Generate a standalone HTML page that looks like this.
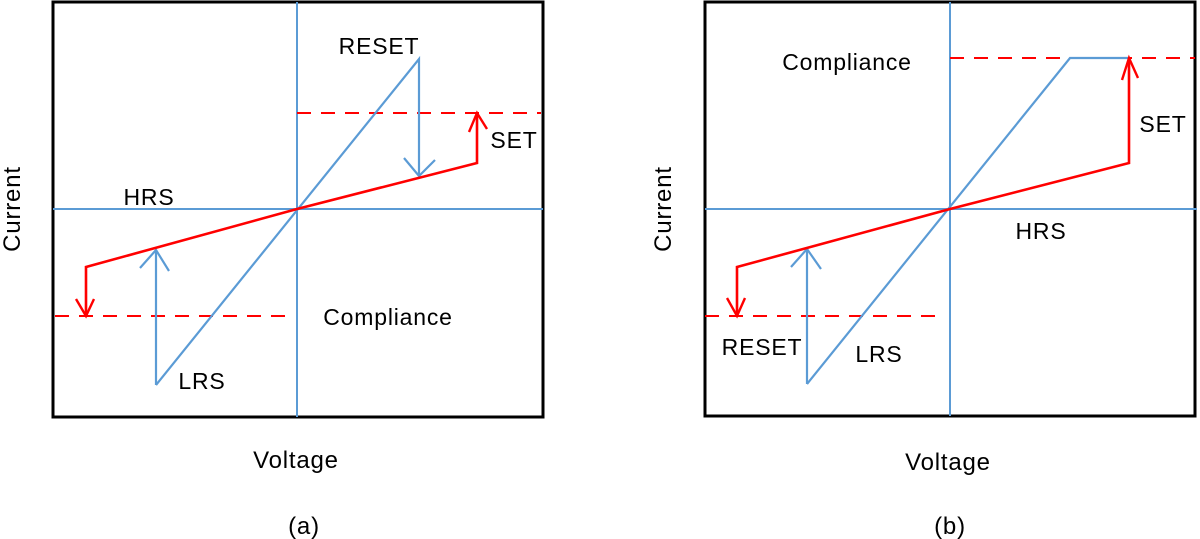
<!DOCTYPE html>
<html><head><meta charset="utf-8"><style>
html,body{margin:0;padding:0;background:#fff;}
svg{display:block;}
text{font-family:"Liberation Sans",sans-serif;fill:#000;letter-spacing:0.8px;}
</style></head><body>
<svg width="1200" height="539" viewBox="0 0 1200 539" xmlns="http://www.w3.org/2000/svg">
<!-- Panel (a) -->
<rect x="53" y="2" width="490" height="415" fill="none" stroke="#000" stroke-width="3"/>
<line x1="297" y1="2" x2="297" y2="417" stroke="#5b9bd5" stroke-width="2"/>
<line x1="53" y1="209" x2="543" y2="209" stroke="#5b9bd5" stroke-width="2"/>
<line x1="297" y1="113" x2="541" y2="113" stroke="#f00" stroke-width="2" stroke-dasharray="14,10"/>
<line x1="55" y1="316" x2="295" y2="316" stroke="#f00" stroke-width="2" stroke-dasharray="14,10"/>
<polyline points="156,385 419,59 419,176" fill="none" stroke="#5b9bd5" stroke-width="2.2"/>
<polyline points="404,158 419,176 435,160" fill="none" stroke="#5b9bd5" stroke-width="2.2"/>
<polyline points="156,385 156,250" fill="none" stroke="#5b9bd5" stroke-width="2.2"/>
<polyline points="140,268 156,250 169,271" fill="none" stroke="#5b9bd5" stroke-width="2.2"/>
<polyline points="86,316 86,267 297,209 477,163 477,113" fill="none" stroke="#f00" stroke-width="2.6"/>
<polyline points="469,132 477,113 487,129" fill="none" stroke="#f00" stroke-width="2.4"/>
<polyline points="76,299 86,316 94,299" fill="none" stroke="#f00" stroke-width="2.4"/>
<text x="379" y="54" font-size="23" text-anchor="middle">RESET</text>
<text x="514" y="148" font-size="23" text-anchor="middle">SET</text>
<text x="149" y="205" font-size="23" text-anchor="middle">HRS</text>
<text x="388" y="325" font-size="23" text-anchor="middle">Compliance</text>
<text x="202" y="389" font-size="23" text-anchor="middle">LRS</text>
<text x="296" y="468" font-size="24" text-anchor="middle">Voltage</text>
<text x="304" y="534" font-size="24" text-anchor="middle">(a)</text>
<text transform="translate(20,209) rotate(-90)" font-size="24" text-anchor="middle">Current</text>

<!-- Panel (b) -->
<rect x="705" y="2" width="490" height="414" fill="none" stroke="#000" stroke-width="3"/>
<line x1="950" y1="2" x2="950" y2="416" stroke="#5b9bd5" stroke-width="2"/>
<line x1="705" y1="209" x2="1197" y2="209" stroke="#5b9bd5" stroke-width="2"/>
<line x1="950" y1="58" x2="1195" y2="58" stroke="#f00" stroke-width="2" stroke-dasharray="14,10"/>
<line x1="705" y1="316" x2="945" y2="316" stroke="#f00" stroke-width="2" stroke-dasharray="14,10"/>
<polyline points="807,384 1070,58 1129,58" fill="none" stroke="#5b9bd5" stroke-width="2.2"/>
<polyline points="807,384 807,249" fill="none" stroke="#5b9bd5" stroke-width="2.2"/>
<polyline points="791,267 807,249 821,269" fill="none" stroke="#5b9bd5" stroke-width="2.2"/>
<polyline points="737,316 737,267 950,209 1129,163 1129,58" fill="none" stroke="#f00" stroke-width="2.6"/>
<polyline points="1122,80 1129,58 1138,78" fill="none" stroke="#f00" stroke-width="2.4"/>
<polyline points="727,298 737,316 745,298" fill="none" stroke="#f00" stroke-width="2.4"/>
<text x="847" y="70" font-size="23" text-anchor="middle">Compliance</text>
<text x="1163" y="132" font-size="23" text-anchor="middle">SET</text>
<text x="1041" y="239" font-size="23" text-anchor="middle">HRS</text>
<text x="762" y="355" font-size="23" text-anchor="middle">RESET</text>
<text x="879" y="362" font-size="23" text-anchor="middle">LRS</text>
<text x="948" y="470" font-size="24" text-anchor="middle">Voltage</text>
<text x="950" y="534" font-size="24" text-anchor="middle">(b)</text>
<text transform="translate(671,209) rotate(-90)" font-size="24" text-anchor="middle">Current</text>
</svg>
</body></html>
